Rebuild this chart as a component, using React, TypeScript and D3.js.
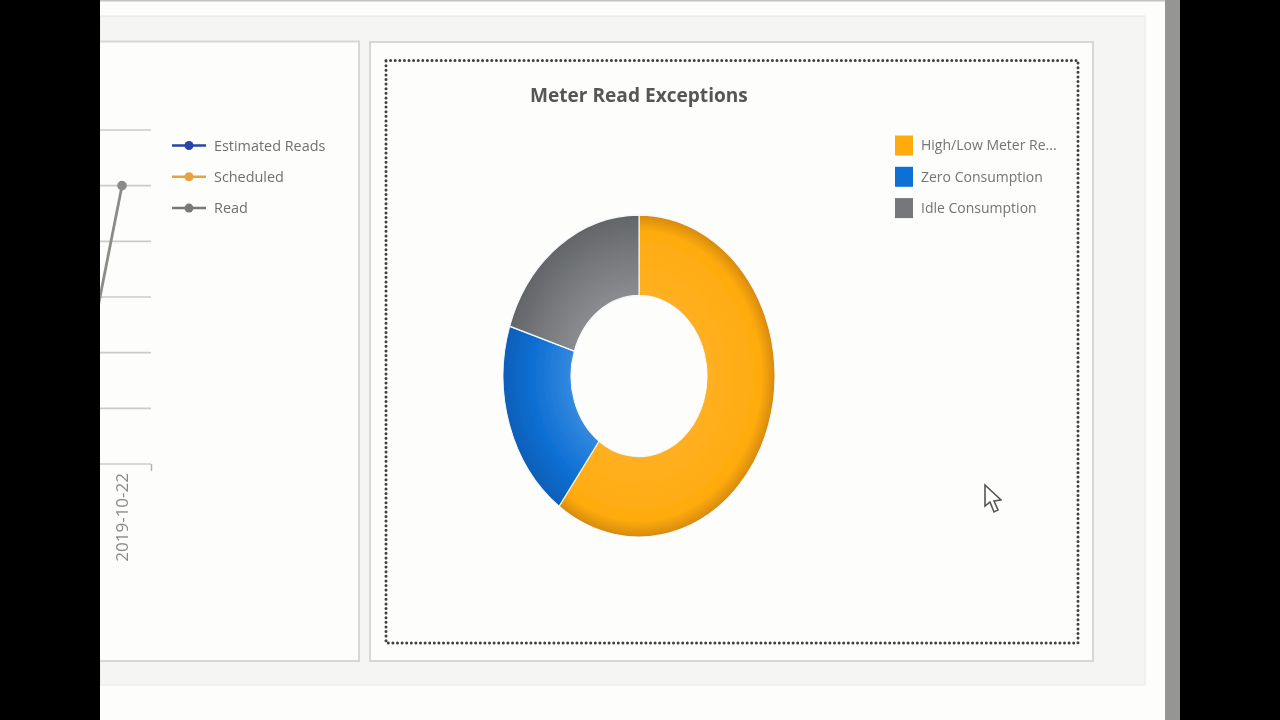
import React from 'react';
import * as d3 from 'd3';

const WIDTH = 1280;
const HEIGHT = 720;

// donut
const exceptionLabels = ['High/Low Meter Re...', 'Zero Consumption', 'Idle Consumption'];
const exceptionValues = [60, 20, 20];
const exceptionColors = ['#ffab0e', '#0f6fd4', '#75777a'];
const exceptionEdges = ['#d68a08', '#0c5fb8', '#636568'];
const exceptionLights = ['#ffb022', '#3389de', '#8a8c8f'];

// line chart cut off by the left side of the frame
const readDates = ['2019-10-21', '2019-10-22'];
const readValues = [1, 5];
const gridValues = [0, 1, 2, 3, 4, 5, 6];
const lineLabels = ['Estimated Reads', 'Scheduled', 'Read'];
const lineColors = ['#2a45a8', '#e9a33c', '#777877'];

const FONT = '"Open Sans", "Noto Sans", sans-serif';

export default function App() {
  const x = d3.scalePoint<string>().domain(readDates).range([78, 122]);
  const y = d3.scaleLinear().domain([0, 6]).range([464, 130]);
  const line = d3.line<number>()
    .x((_, i) => x(readDates[i]) as number)
    .y(d => y(d));

  const outer = 136;
  const inner = 68;
  const pie = d3.pie<number>().sort(null)(exceptionValues);
  const arc = d3.arc<d3.PieArcDatum<number>>().innerRadius(inner).outerRadius(outer);

  return (
    <div style={{ position: 'fixed', left: 0, top: 0 }}>
      <svg width={WIDTH} height={HEIGHT} style={{ display: 'block' }} fontFamily={FONT}>
        <defs>
          <filter id="soft" x="-5%" y="-5%" width="110%" height="110%">
            <feGaussianBlur stdDeviation="0.75" />
          </filter>
          <filter id="softer" x="-5%" y="-5%" width="110%" height="110%">
            <feGaussianBlur stdDeviation="0.55" />
          </filter>
          {exceptionColors.map((c, i) => (
            <radialGradient key={c} id={`slice${i}`} gradientUnits="userSpaceOnUse" cx={0} cy={0} r={outer}>
              <stop offset="0.5" stopColor={exceptionLights[i]} />
              <stop offset={i === 0 ? 0.9 : 0.78} stopColor={c} />
              <stop offset="1" stopColor={exceptionEdges[i]} />
            </radialGradient>
          ))}
        </defs>

        <rect width={WIDTH} height={HEIGHT} fill="#000" />
        <rect x={100} y={0} width={1066} height={HEIGHT} fill="#fdfdfc" />
        <rect x={100} y={0} width={1066} height={1.5} fill="#c4c4c2" />
        <rect x={100} y={16} width={1045} height={669} fill="#f5f5f4" stroke="#e8e8e6" strokeWidth={1} />

        {/* left panel */}
        <rect x={99} y={41.5} width={260} height={619.5} fill="#fdfdfc" stroke="#d6d8d6" strokeWidth={2} />
        <g filter="url(#softer)">
          {gridValues.map(v => (
            <line key={v} x1={100} x2={151} y1={y(v)} y2={y(v)} stroke="#cbcbc9" strokeWidth={1.6} />
          ))}
          <line x1={151.5} x2={151.5} y1={464} y2={471} stroke="#b4b4b2" strokeWidth={1.5} />
          <path d={line(readValues) as string} fill="none" stroke="#8b8b88" strokeWidth={2.8} />
          <circle cx={x(readDates[1])} cy={y(readValues[1])} r={4.8} fill="#8b8b88" />
        </g>
        <text
          transform={`translate(${(x(readDates[1]) as number) + 6},473) rotate(-90)`}
          textAnchor="end"
          fontSize={17}
          fill="#8a8a8a"
          filter="url(#soft)"
        >
          {readDates[1]}
        </text>
        <g filter="url(#soft)">
          {lineLabels.map((label, i) => (
            <g key={label} transform={`translate(172,${145.5 + i * 31.3})`}>
              <line x1={0} x2={34} stroke={lineColors[i]} strokeWidth={2.5} />
              <circle cx={17} r={4.5} fill={lineColors[i]} />
              <text x={42} dy="0.35em" fontSize={14.4} fill="#6f7072">{label}</text>
            </g>
          ))}
        </g>

        {/* right panel */}
        <rect x={370} y={42} width={723} height={619} fill="#fdfdfc" stroke="#d6d8d6" strokeWidth={2} />
        <rect
          x={386}
          y={60.5}
          width={692}
          height={582.5}
          fill="none"
          stroke="#404040"
          strokeWidth={3}
          strokeLinecap="round"
          strokeDasharray="0 4.6"
          filter="url(#softer)"
        />
        <text x={530} y={102} fontSize={19.1} fontWeight={700} fill="#555657" filter="url(#softer)">
          Meter Read Exceptions
        </text>

        <g transform="translate(639,376) scale(1,1.184)" filter="url(#softer)">
          {pie.map((d, i) => (
            <path
              key={exceptionLabels[i]}
              d={arc(d) as string}
              fill={`url(#slice${i})`}
              stroke="#f4f8fb"
              strokeWidth={1.1}
            />
          ))}
        </g>

        <g filter="url(#soft)">
          {exceptionLabels.map((label, i) => (
            <g key={label} transform={`translate(895,${145.5 + i * 31.3})`}>
              <rect y={-10} width={18} height={20} fill={exceptionColors[i]} />
              <text x={26} dy="0.35em" fontSize={14} fill="#737476">{label}</text>
            </g>
          ))}
        </g>

        {/* mouse pointer in the recording */}
        <path
          d="M985 485 L985 506 L990 502 L994 512 L998 510 L994 501 L1001 500 Z"
          fill="#fff"
          stroke="#555"
          strokeWidth={1.6}
          filter="url(#soft)"
        />

        {/* frame of the video */}
        <rect x={1165} y={0} width={15} height={HEIGHT} fill="#959694" />
        <rect x={0} y={0} width={100} height={HEIGHT} fill="#000" />
        <rect x={1180} y={0} width={100} height={HEIGHT} fill="#000" />
      </svg>
    </div>
  );
}
